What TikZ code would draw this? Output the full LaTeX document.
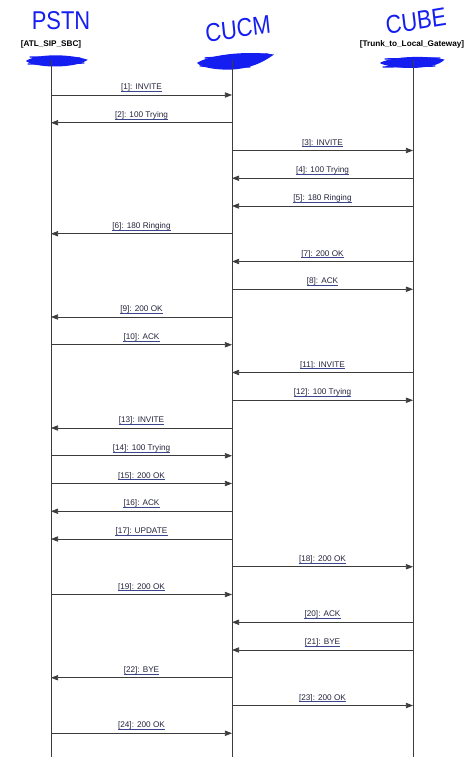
\documentclass[tikz,border=0pt]{standalone}
\usepackage{fontspec}
\setmainfont{Liberation Sans}
\usepackage{tikz}
\usetikzlibrary{arrows.meta,positioning,calc}
\definecolor{inkblue}{RGB}{20,30,240}
\definecolor{lifegrey}{RGB}{60,60,60}
\definecolor{msgtext}{RGB}{35,35,60}
\definecolor{ulblue}{RGB}{60,70,140}
\tikzset{
  base/.style={font=\fontsize{7}{8}\selectfont, inner sep=0pt, text=msgtext},
  hdr/.style={font=\fontsize{7}{8}\selectfont\bfseries, inner sep=1pt, text=black},
  hand/.style={font=\fontsize{22}{24}\selectfont, text=inkblue, inner sep=0pt, xscale=0.85},
  life/.style={draw=lifegrey, line width=0.8pt},
  msg/.style={-{Triangle[length=6pt,width=4.5pt]}, draw=lifegrey, line width=0.6pt},
  ulin/.style={draw=ulblue, line width=0.45pt},
  blot/.style={fill=inkblue, draw=inkblue, line width=1.2pt, line cap=round},
}
\begin{document}
\begin{tikzpicture}[x=0.03cm,y=-0.03cm]
  \useasboundingbox (0,0) rectangle (474,757);
  % handwritten names
  \node[hand] (hP) at (61,21) {PSTN};
  \node[hand,rotate=7] (hC) at (238,29) {CUCM};
  \node[hand,rotate=8] (hB) at (416,21) {CUBE};
  % bracketed names
  \node[hdr] (nP) at (51,44) {[ATL\_SIP\_SBC]};
  \node[hdr] (nB) at (412,44) {[Trunk\_to\_Local\_Gateway]};
  % scribbled-out names
  \fill[blot] (27,61) .. controls (40,54) and (70,55) .. (86,60) .. controls (75,67) and (40,68) .. (27,61);
  \draw[blot,fill=none] (30,57) -- (80,58) (28,64) -- (84,63);
  \fill[blot] (198,63) .. controls (215,54) and (250,52) .. (272,55) .. controls (262,62) and (250,68) .. (230,69) .. controls (215,69) and (203,67) .. (198,63);
  \draw[blot,fill=none] (205,58) -- (268,54) (200,66) -- (250,67);
  \fill[blot] (381,63) .. controls (395,57) and (425,56) .. (443,60) .. controls (435,68) and (400,70) .. (381,63);
  \draw[blot,fill=none] (385,59) -- (440,58) (383,67) -- (435,66);
  % lifelines
  \coordinate (P) at (51,60);
  \coordinate (C) at (232,60);
  \coordinate (B) at (413,60);
  \foreach \l in {P,C,B}{
    \coordinate (\l end) at ($(\l)+(0,697)$);
    \draw[life] (\l) -- (\l end);
  }
  % messages
  \foreach \i/\s/\t/\txt in {1/P/C/INVITE,2/C/P/100 Trying,3/C/B/INVITE,4/B/C/100 Trying,
      5/B/C/180 Ringing,6/C/P/180 Ringing,7/B/C/200 OK,8/C/B/ACK,9/C/P/200 OK,10/P/C/ACK,
      11/B/C/INVITE,12/C/B/100 Trying,13/C/P/INVITE,14/P/C/100 Trying,15/P/C/200 OK,
      16/C/P/ACK,17/C/P/UPDATE,18/C/B/200 OK,19/P/C/200 OK,20/B/C/ACK,21/B/C/BYE,
      22/C/P/BYE,23/C/B/200 OK,24/P/C/200 OK}{
    \coordinate (m\i s) at ($(\s)+(0,{35+(\i-1)*27.75})$);
    \coordinate (m\i t) at ($(\t)+(0,{35+(\i-1)*27.75})$);
    \draw[msg] (m\i s) -- (m\i t);
    \node[base,anchor=base] (l\i) at ($(m\i s)!0.5!(m\i t)+(0,-5.5)$) {[\i]: \txt};
    \draw[ulin] ([yshift=-1.3pt]l\i.base west) -- ([yshift=-1.3pt]l\i.base east);
  }
\end{tikzpicture}
\end{document}
